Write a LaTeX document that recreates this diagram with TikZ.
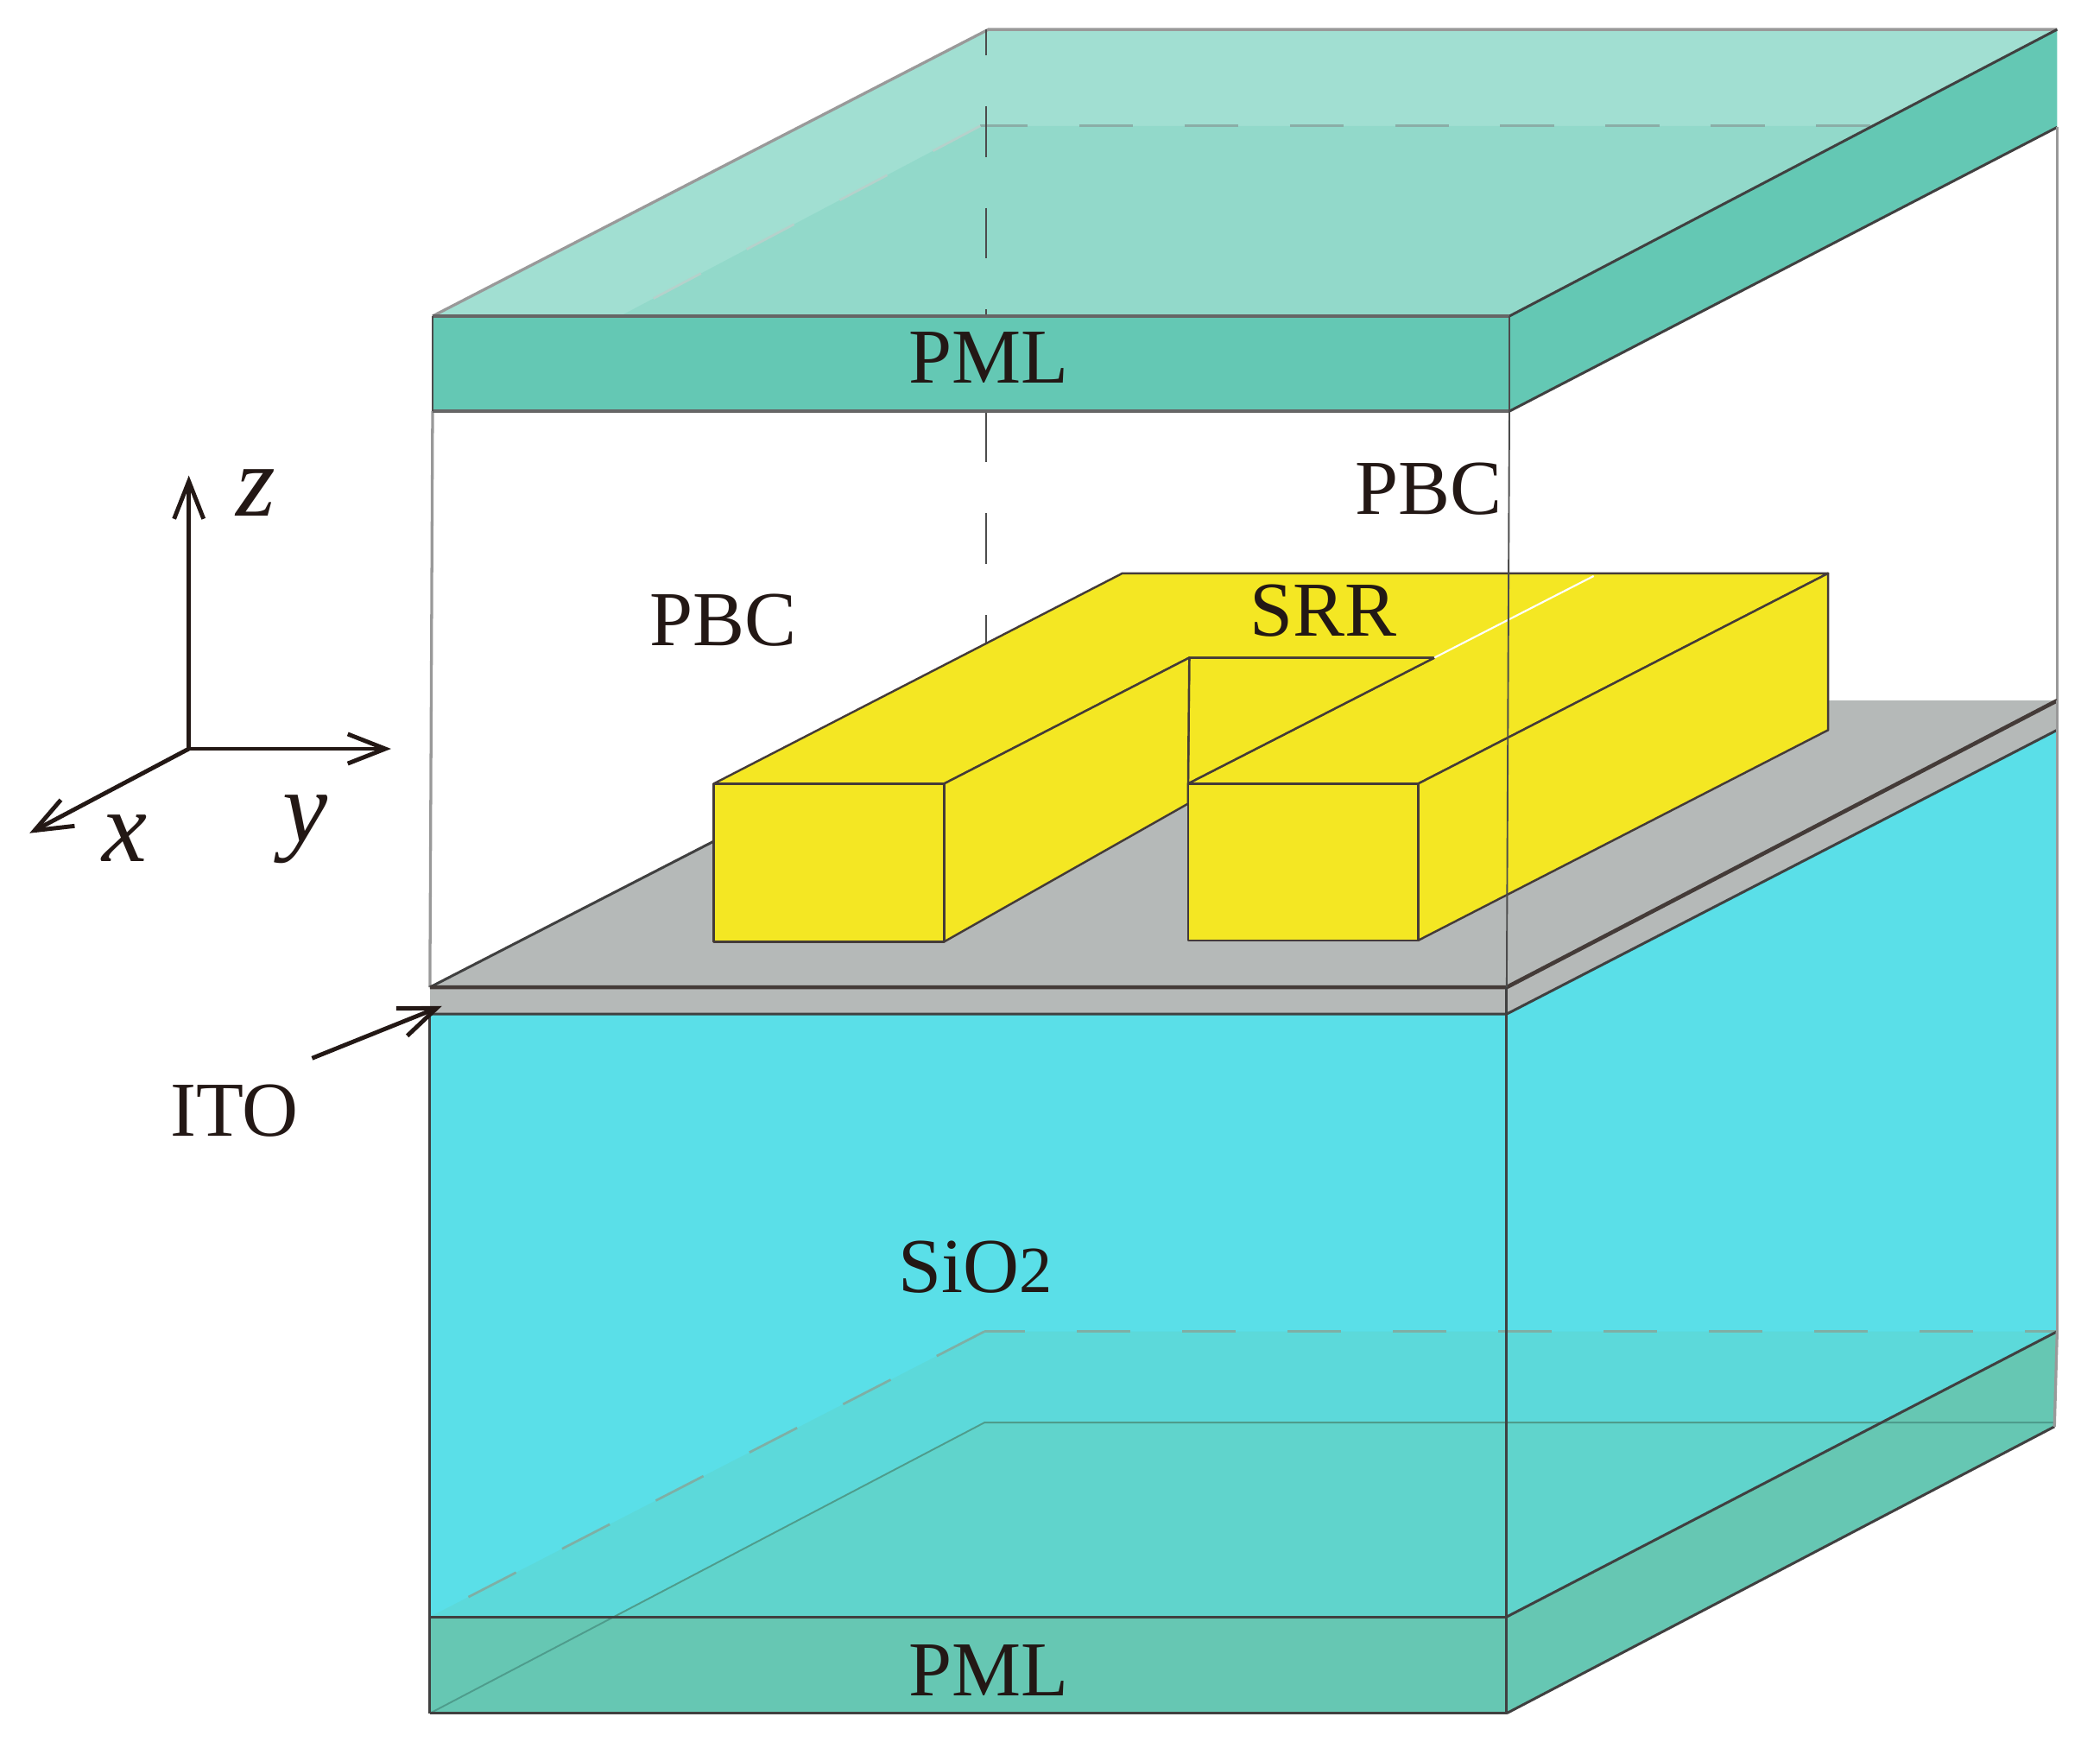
\documentclass[tikz,border=0pt]{standalone}
\usepackage{fontspec}
\setmainfont{Liberation Serif}
\usetikzlibrary{arrows.meta}

\definecolor{inkline}{HTML}{231815}
\definecolor{pmlface}{HTML}{64C8B4}
\definecolor{pmltop}{HTML}{A1DFD2}
\definecolor{pmlinner}{HTML}{92D9CA}
\definecolor{pmllow}{HTML}{66C7B3}
\definecolor{pmlupper}{HTML}{5CD9DA}
\definecolor{pmlfloor}{HTML}{60D4CC}
\definecolor{sio}{HTML}{5ADFE8}
\definecolor{ito}{HTML}{B5B9B8}
\definecolor{srr}{HTML}{F4E723}

\tikzset{
  thinedge/.style={draw=black!70, line width=0.35pt},
  darkedge/.style={draw=black!75, line width=0.55pt},
  boldedge/.style={draw=inkline!85, line width=0.85pt},
  greyedge/.style={draw=black!40, line width=0.6pt},
  hiddenedge/.style={line width=0.5pt, dash pattern=on 0.4cm off 0.386cm},
  srrface/.style={fill=srr, draw=inkline!85, line width=0.45pt, line join=round},
  axisarrow/.style={draw=inkline, line width=0.9pt, -{Straight Barb[length=2.8mm,width=2.2mm]}},
  label/.style={text=inkline, font=\fontsize{16.5}{20}\selectfont, inner sep=0pt},
  axislabel/.style={text=inkline, font=\fontsize{21.5}{26}\selectfont\itshape, inner sep=0pt}
}

\begin{document}
\begin{tikzpicture}[x=0.01cm, y=-0.01cm]
  \useasboundingbox (0,0) rectangle (1568,1300);

  % PML de cima
  \fill[pmltop] (323,236) -- (738,22) -- (1536,22) -- (1127,236) -- cycle;
  \fill[pmlinner] (463,236) -- (732,94) -- (1402,94) -- (1127,236) -- cycle;
  \draw[hiddenedge, draw=pmlface!60!black!60, dash phase=0.05cm] (732,94) -- (1402,94);
  \draw[hiddenedge, draw=pmlface!70!black!40] (732,94) -- (463,236);
  \draw[greyedge] (323,236) -- (738,22) -- (1536,22);
  \fill[pmlface] (1127,236) -- (1536,22) -- (1536,95) -- (1127,307) -- cycle;
  \draw[darkedge] (1127,236) -- (1536,22);
  \draw[darkedge] (1127,307) -- (1536,95);

  % Arestas da caixa
  \draw[thinedge, dash pattern=on 0.38cm off 0.38cm, dash phase=0.19cm] (736,22) -- (736,482);
  \draw[greyedge] (1536,95) -- (1536,525);
  \draw[greyedge] (323,307) -- (321,737);

  \fill[pmlface] (323,236) rectangle (1127,307);
  \draw[draw=black!60, line width=0.85pt] (323,236) -- (1127,236);
  \draw[draw=black!60, line width=0.7pt] (323,307) -- (1127,307);
  \draw[thinedge] (323,236) -- (323,307);
  \draw[thinedge] (1127,236) -- (1127,307);

  % SiO2
  \fill[sio] (321,757) rectangle (1125,1207);
  \fill[sio] (1125,757) -- (1536,545) -- (1536,994) -- (1125,1207) -- cycle;

  % PML de baixo
  \fill[pmlupper] (321,1207) -- (735,994) -- (1536,994) -- (1125,1207) -- cycle;
  \fill[pmlfloor] (458,1207) -- (735,1062) -- (1405,1062) -- (1125,1207) -- cycle;
  \fill[pmllow] (321,1207) rectangle (1125,1279);
  \fill[pmllow] (1125,1207) -- (1536,994) -- (1534,1065) -- (1125,1279) -- cycle;
  \draw[hiddenedge, draw=pmlface!70!black!70, dash phase=0.094cm] (735,994) -- (1536,994);
  \draw[hiddenedge, draw=pmlface!70!black!70] (735,994) -- (321,1207);
  \draw[draw=pmlface!78!black, line width=0.35pt] (321,1279) -- (735,1062) -- (1534,1062);
  \draw[darkedge] (1125,1207) -- (1536,994);
  \draw[darkedge] (1125,1279) -- (1534,1065);
  \draw[greyedge] (1536,994) -- (1534,1065);
  \draw[darkedge] (321,1207) -- (1125,1207);
  \draw[darkedge] (321,1279) -- (1125,1279);
  \draw[darkedge] (321,757) -- (321,1279);

  % ITO
  \fill[ito] (321,737) -- (735,523) -- (1536,523) -- (1125,737) -- cycle;
  \fill[ito] (321,737) rectangle (1125,757);
  \fill[ito] (1125,737) -- (1536,523) -- (1536,545) -- (1125,757) -- cycle;
  \draw[darkedge] (321,737) -- (533,628);
  \draw[boldedge] (321,737) -- (1125,737) -- (1536,523);
  \draw[darkedge] (321,757) -- (1125,757) -- (1536,545);
  \draw[greyedge] (1536,523) -- (1536,994);

  % SRR
  \filldraw[srrface] (533,585) -- (838,428) -- (1365,428) -- (1059,585) -- (887,585)
    -- (1071,491) -- (888,491) -- (705,585) -- cycle;
  \filldraw[srrface] (888,491) -- (1071,491) -- (887,585) -- cycle;
  \filldraw[srrface] (705,585) -- (888,491) -- (887,600) -- (705,703) -- cycle;
  \filldraw[srrface] (533,585) rectangle (705,703);
  \filldraw[srrface] (1059,585) -- (1365,428) -- (1365,545) -- (1059,702) -- cycle;
  \filldraw[srrface] (887,585) rectangle (1059,702);
  \draw[white, line width=0.4pt] (1071,491) -- (1190,430);

  % Aresta da frente
  \draw[thinedge] (1127,307) -- (1125,737);
  \draw[darkedge] (1125,737) -- (1125,1279);

  % Eixos
  \coordinate (origin) at (141,559);
  \coordinate (xtip) at (22,622);
  \coordinate (ytip) at (292,559);
  \coordinate (ztip) at (141,355);
  \draw[axisarrow] (origin) -- (xtip);
  \draw[axisarrow] (origin) -- (ytip);
  \draw[axisarrow] (origin) -- (ztip);
  \node[axislabel] (xlab) at (93,626) {x};
  \node[axislabel] (ylab) at (228,619) {y};
  \node[axislabel] (zlab) at (191,368) {z};

  % Textos
  \node[label] (pmla) at (738,267) {PML};
  \node[label] (pmlb) at (738,1247) {PML};
  \node[label] (pbca) at (540,463) {PBC};
  \node[label] (pbcb) at (1067,365) {PBC};
  \node[label] (srrlab) at (988,456) {SRR};
  \node[label] (siolab) at (728,946) {SiO{\fontsize{14}{16}\selectfont 2}};
  \node[label] (itolab) at (175,829) {ITO};

  % Seta do ITO
  \coordinate (itostart) at (233,790);
  \coordinate (itotip) at (330,751);
  \draw[axisarrow] (itostart) -- (itotip);
\end{tikzpicture}
\end{document}
